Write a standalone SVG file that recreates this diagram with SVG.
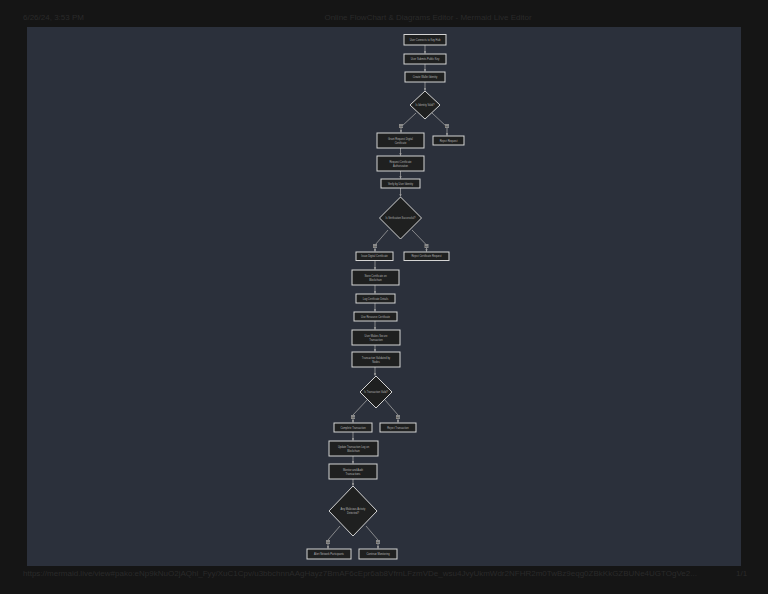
<svg xmlns="http://www.w3.org/2000/svg" width="768" height="594" viewBox="0 0 768 594">
<defs>
<style>
.hdr{font-family:"Liberation Sans",Arial,sans-serif;font-size:8px;fill:#2a2a2a}
.nd rect,.nd polygon{fill:#1f2020;stroke:#d4d4d4;stroke-width:1}
.nd text{font-family:"Liberation Sans",Arial,sans-serif;font-size:2.6px;fill:#b4b4b4;text-anchor:middle}
.ed path{fill:none;stroke:#a0a0a0;stroke-width:0.8;marker-end:url(#ah)}
.lb rect{fill:#8a8a8a}
.lb text{font-family:"Liberation Sans",Arial,sans-serif;font-size:2.2px;fill:#222;text-anchor:middle}
</style>
<marker id="ah" viewBox="0 0 10 10" refX="9" refY="5" markerWidth="3" markerHeight="3" orient="auto"><path d="M0,0 L10,5 L0,10 z" fill="#a0a0a0"/></marker>
</defs>
<rect width="768" height="594" fill="#151515"/>
<text class="hdr" x="23" y="20">6/26/24, 3:53 PM</text>
<text class="hdr" x="428" y="20" text-anchor="middle">Online FlowChart &amp; Diagrams Editor - Mermaid Live Editor</text>
<rect x="27" y="27" width="714" height="539" fill="#2b303b"/>
<text class="hdr" x="23" y="576">https://mermaid.live/view#pako:eNp9kNuO2jAQhl_Fyy/XuC1Cpv/u3bbchnnAAgHayz7BmAF6cEpr6ab8VfrnLFzmVDe_wsu4JvyUkmWdr2NFHR2m0TwBz9eqg0ZBkKkGZBUNe4UGTOgVe2...</text>
<text class="hdr" x="736" y="576">1/1</text>

<g class="ed" id="connectors">
<path d="M425,45 V53.5"/>
<path d="M425,64 V71.5"/>
<path d="M425,82 V90.5"/>
<path d="M416,113 L401,127 V132.5"/>
<path d="M432,113 L447,127 V135.5"/>
<path d="M400.5,148 V155.5"/>
<path d="M400.5,171 V178.5"/>
<path d="M400.5,188 V196.5"/>
<path d="M388,230 L375,245 V251.5"/>
<path d="M412,230 L426.5,245 V251.5"/>
<path d="M375,260.5 V269.5"/>
<path d="M375,285 V293.5"/>
<path d="M375,303 V311.5"/>
<path d="M375,321 V329.5"/>
<path d="M375,345 V351.5"/>
<path d="M375,367 V375.5"/>
<path d="M367,400 L353,415 V422.5"/>
<path d="M385,400 L398,415 V422.5"/>
<path d="M353,432 V440.5"/>
<path d="M353,456 V463.5"/>
<path d="M353,479 V485.5"/>
<path d="M340,526 L328,540 V548.5"/>
<path d="M366,526 L378,540 V548.5"/>
</g>

<g class="lb" id="edge-labels">
<rect x="399" y="124" width="4" height="4"/><text x="401" y="126.8">Yes</text>
<rect x="445" y="124" width="4" height="4"/><text x="447" y="126.8">No</text>
<rect x="373" y="244" width="4" height="4"/><text x="375" y="246.8">Yes</text>
<rect x="424.5" y="244" width="4" height="4"/><text x="426.5" y="246.8">No</text>
<rect x="351" y="415" width="4" height="4"/><text x="353" y="417.8">Yes</text>
<rect x="396" y="415" width="4" height="4"/><text x="398" y="417.8">No</text>
<rect x="326" y="540" width="4" height="4"/><text x="328" y="542.8">Yes</text>
<rect x="376" y="540" width="4" height="4"/><text x="378" y="542.8">No</text>
</g>

<g class="nd" id="n1"><rect x="404" y="34.5" width="42" height="10.5"/><text x="425" y="40.8">User Connects to Key Hub</text></g>
<g class="nd" id="n2"><rect x="404" y="54" width="42" height="10"/><text x="425" y="60">User Submits Public Key</text></g>
<g class="nd" id="n3"><rect x="405" y="72" width="40" height="10"/><text x="425" y="78">Create Wallet Identity</text></g>
<g class="nd" id="d1"><polygon points="425,91 440,105 425,119 410,105"/><text x="425" y="106">Is Identity Valid?</text></g>
<g class="nd" id="n4"><rect x="377" y="133" width="47" height="15"/><text x="400.5" y="139.5">Grant Request Digital</text><text x="400.5" y="143.5">Certificate</text></g>
<g class="nd" id="n5"><rect x="433" y="136" width="31" height="9"/><text x="448.5" y="141.5">Reject Request</text></g>
<g class="nd" id="n6"><rect x="377" y="156" width="47" height="15"/><text x="400.5" y="162.5">Request Certificate</text><text x="400.5" y="166.5">Authorization</text></g>
<g class="nd" id="n7"><rect x="381" y="179" width="39" height="9"/><text x="400.5" y="184.5">Verify by User Identity</text></g>
<g class="nd" id="d2"><polygon points="400.5,197 421.5,218 400.5,239 379.5,218"/><text x="400.5" y="219">Is Verification Successful?</text></g>
<g class="nd" id="n8"><rect x="356" y="252" width="37" height="8.5"/><text x="374.5" y="257.2">Issue Digital Certificate</text></g>
<g class="nd" id="n9"><rect x="404" y="252" width="45" height="8.5"/><text x="426.5" y="257.2">Reject Certificate Request</text></g>
<g class="nd" id="n10"><rect x="352" y="270" width="47" height="15"/><text x="375.5" y="276.5">Store Certificate on</text><text x="375.5" y="280.5">Blockchain</text></g>
<g class="nd" id="n11"><rect x="356" y="294" width="39" height="9"/><text x="375.5" y="299.5">Log Certificate Details</text></g>
<g class="nd" id="n12"><rect x="354" y="312" width="43" height="9"/><text x="375.5" y="317.5">Use Resource Certificate</text></g>
<g class="nd" id="n13"><rect x="352" y="330" width="48" height="15"/><text x="376" y="336.5">User Makes Secure</text><text x="376" y="340.5">Transaction</text></g>
<g class="nd" id="n14"><rect x="352" y="352" width="48" height="15"/><text x="376" y="358.5">Transaction Validated by</text><text x="376" y="362.5">Nodes</text></g>
<g class="nd" id="d3"><polygon points="376,376 392,392 376,408 360,392"/><text x="376" y="393">Is Transaction Valid?</text></g>
<g class="nd" id="n15"><rect x="334" y="423" width="38" height="9"/><text x="353" y="428.5">Complete Transaction</text></g>
<g class="nd" id="n16"><rect x="380" y="423" width="36" height="9"/><text x="398" y="428.5">Reject Transaction</text></g>
<g class="nd" id="n17"><rect x="329" y="441" width="49" height="15"/><text x="353.5" y="447.5">Update Transaction Log on</text><text x="353.5" y="451.5">Blockchain</text></g>
<g class="nd" id="n18"><rect x="329" y="464" width="48" height="15"/><text x="353" y="470.5">Monitor and Audit</text><text x="353" y="474.5">Transactions</text></g>
<g class="nd" id="d4"><polygon points="353,486 377,511 353,536 329,511"/><text x="353" y="510">Any Malicious Activity</text><text x="353" y="514">Detected?</text></g>
<g class="nd" id="n19"><rect x="307" y="549" width="44" height="10"/><text x="329" y="555">Alert Network Participants</text></g>
<g class="nd" id="n20"><rect x="359" y="549" width="38" height="10"/><text x="378" y="555">Continue Monitoring</text></g>
</svg>
